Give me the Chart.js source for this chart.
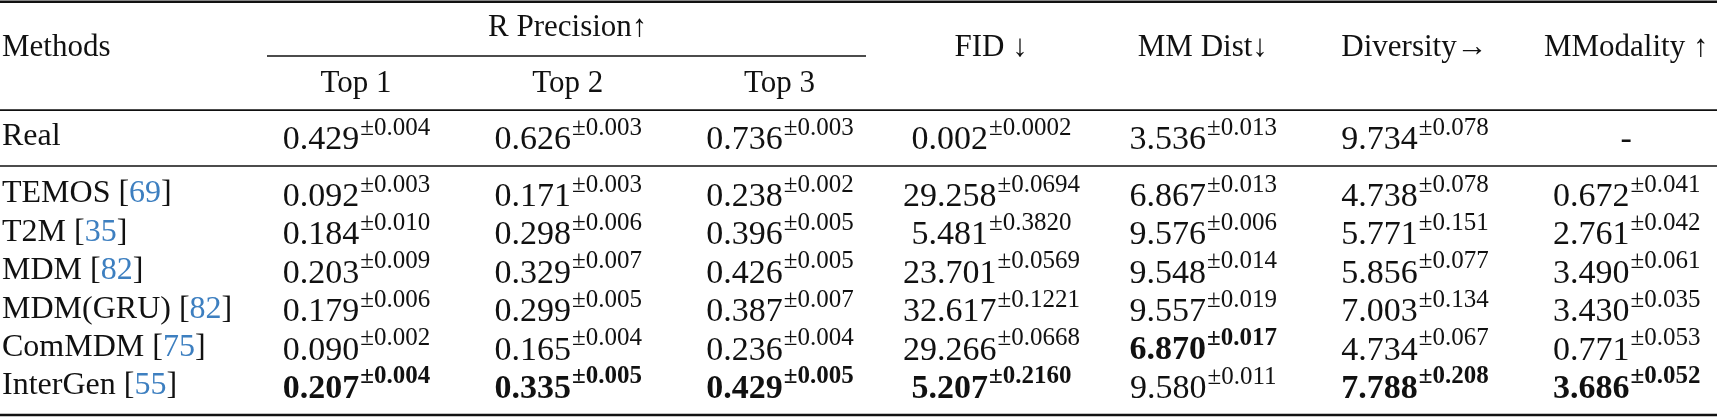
<!DOCTYPE html>
<html><head><meta charset="utf-8">
<script src="https://cdn.jsdelivr.net/npm/chart.js@4/dist/chart.umd.min.js"></script>
<style>html,body{margin:0;padding:0;background:#fff}#c{display:block}</style>
</head><body>
<canvas id="c" width="1717" height="418"></canvas>
<script>
const columns = ["Top 1","Top 2","Top 3","FID \u2193","MM Dist\u2193","Diversity\u2192","MModality \u2191"];
const methods = ["Real","TEMOS","T2M","MDM","MDM(GRU)","ComMDM","InterGen"];
const refs = ["","69","35","82","82","75","55"];
const top1 = ["0.429","0.092","0.184","0.203","0.179","0.090","0.207"];
const top1Std = ["0.004","0.003","0.010","0.009","0.006","0.002","0.004"];
const top2 = ["0.626","0.171","0.298","0.329","0.299","0.165","0.335"];
const top2Std = ["0.003","0.003","0.006","0.007","0.005","0.004","0.005"];
const top3 = ["0.736","0.238","0.396","0.426","0.387","0.236","0.429"];
const top3Std = ["0.003","0.002","0.005","0.005","0.007","0.004","0.005"];
const fid = ["0.002","29.258","5.481","23.701","32.617","29.266","5.207"];
const fidStd = ["0.0002","0.0694","0.3820","0.0569","0.1221","0.0668","0.2160"];
const mmDist = ["3.536","6.867","9.576","9.548","9.557","6.870","9.580"];
const mmDistStd = ["0.013","0.013","0.006","0.014","0.019","0.017","0.011"];
const diversity = ["9.734","4.738","5.771","5.856","7.003","4.734","7.788"];
const diversityStd = ["0.078","0.078","0.151","0.077","0.134","0.067","0.208"];
const mmodality = ["-","0.672","2.761","3.490","3.430","0.771","3.686"];
const mmodalityStd = ["","0.041","0.042","0.061","0.035","0.053","0.052"];
const boldCells = [[6,0],[6,1],[6,2],[6,3],[5,4],[6,5],[6,6]];

const vals = [top1,top2,top3,fid,mmDist,diversity,mmodality];
const stds = [top1Std,top2Std,top3Std,fidStd,mmDistStd,diversityStd,mmodalityStd];
const rowY = r => r===0 ? 0 : 1.484 + (r-1);
const datasets = vals.map((v,ci)=>({
  label: columns[ci],
  data: v.map((_,r)=>({x: ci+1, y: rowY(r)})),
  pointRadius: 0, showLine:false
}));
const SERIF = '"Liberation Serif","DejaVu Serif",serif';
const tablePlugin = {
  id:'table',
  afterDatasetsDraw(chart){
    const ctx = chart.ctx, xs = chart.scales.x, ys = chart.scales.y;
    ctx.save();
    ctx.fillStyle='#111'; ctx.strokeStyle='#111';
    const hline=(y,x0,x1,w)=>{ctx.lineWidth=w;ctx.beginPath();ctx.moveTo(x0,ys.getPixelForValue(y));ctx.lineTo(x1,ys.getPixelForValue(y));ctx.stroke();};
    hline(-3.52,0,1717,2.5); hline(-0.70,0,1717,1.6); hline(0.755,0,1717,1.6); hline(7.24,0,1717,2.5);
    hline(-2.11,267,866,1.4);
    ctx.textBaseline='middle';
    ctx.font='31px '+SERIF; ctx.textAlign='left';
    ctx.fillText('Methods',2,ys.getPixelForValue(-2.32));
    ctx.textAlign='center';
    ctx.fillText('R Precision\u2191',xs.getPixelForValue(2),ys.getPixelForValue(-2.84));
    columns.forEach((c,i)=>{
      const y = i<3 ? -1.38 : -2.32;
      ctx.fillText(c,xs.getPixelForValue(i+1),ys.getPixelForValue(y));
    });
    methods.forEach((m,r)=>{
      const y=ys.getPixelForValue(rowY(r));
      ctx.textAlign='left'; ctx.fillStyle='#111'; ctx.font='32px '+SERIF;
      let x=2; ctx.fillText(m,x,y); x+=ctx.measureText(m).width;
      if(refs[r]){
        const p=' ['; ctx.fillText(p,x,y); x+=ctx.measureText(p).width;
        ctx.fillStyle='#3d7fc0'; ctx.fillText(refs[r],x,y); x+=ctx.measureText(refs[r]).width;
        ctx.fillStyle='#111'; ctx.fillText(']',x,y);
      }
    });
    chart.data.datasets.forEach((ds,ci)=>{
      chart.getDatasetMeta(ci).data.forEach((pt,r)=>{
        const bold = boldCells.some(b=>b[0]===r&&b[1]===ci);
        const main=vals[ci][r], sup=stds[ci][r]?'\u00b1'+stds[ci][r]:'';
        const mf=(bold?'bold ':'')+'34px '+SERIF, sf=(bold?'bold ':'')+'25px '+SERIF;
        ctx.font=mf; const mw=ctx.measureText(main).width;
        ctx.font=sf; const sw=sup?ctx.measureText(sup).width:0;
        let x=pt.x-(mw+sw)/2;
        ctx.textAlign='left'; ctx.fillStyle='#111';
        ctx.font=mf; ctx.fillText(main,x,pt.y+3);
        if(sup){ctx.font=sf; ctx.fillText(sup,x+mw+1,pt.y-9);}
      });
    });
    ctx.restore();
  }
};
new Chart(document.getElementById('c'),{
  type:'scatter',
  data:{datasets},
  options:{
    responsive:false, animation:false, devicePixelRatio:1,
    layout:{padding:0},
    plugins:{legend:{display:false},tooltip:{enabled:false}},
    scales:{
      x:{type:'linear',display:false,min:1-356/211.7,max:1+1361/211.7},
      y:{type:'linear',display:false,reverse:true,min:-137/38.4,max:(418-137)/38.4}
    }
  },
  plugins:[tablePlugin]
});
</script>
</body></html>
